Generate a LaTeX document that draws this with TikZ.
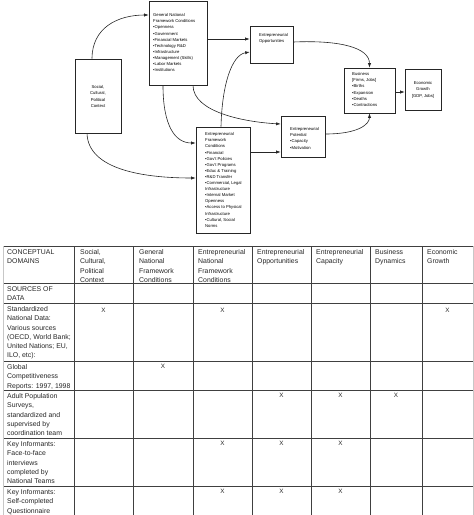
\documentclass[tikz,border=0pt]{standalone}
\usepackage{fontspec}
\setmainfont{Liberation Sans}
\usetikzlibrary{arrows.meta}
\begin{document}
\begin{tikzpicture}[x=1pt,y=-1pt,
  box/.style={draw=black!85, line width=0.6pt, inner sep=0pt, fill=white},
  btext/.style={inner sep=0pt, align=left, anchor=north west, font=\fontsize{4.2}{6.1}\selectfont},
  ctext/.style={inner sep=0pt, align=center, anchor=north, font=\fontsize{4.2}{6.2}\selectfont},
  arr/.style={line width=0.6pt, draw=black!85, -{Latex[length=4.5pt,width=3.2pt]}},
  tline/.style={line width=0.8pt, draw=black!75},
  tborder/.style={line width=0.8pt, draw=black!22},
  ttext/.style={inner sep=0pt, align=left, anchor=north west, font=\fontsize{6.9}{9.2}\selectfont, text=black!85},
  xmark/.style={inner sep=0pt, font=\fontsize{6.3}{7}\selectfont, text=black!85}]
\useasboundingbox (0,0) rectangle (474,515);

% ---------- diagram boxes ----------
\node[box, minimum width=46pt, minimum height=74pt] (soc) at (98,96) {};
\node[box, minimum width=58pt, minimum height=84pt] (gnfc) at (178,43) {};
\node[box, minimum width=43pt, minimum height=37pt] (eo) at (271.5,44.5) {};
\node[box, minimum width=54pt, minimum height=106pt] (efc) at (223,180) {};
\node[box, minimum width=44pt, minimum height=41pt] (ep) at (303,136.5) {};
\node[box, minimum width=51pt, minimum height=45pt] (bus) at (369.5,90.5) {};
\node[box, minimum width=36pt, minimum height=41pt] (eg) at (423,89.5) {};

% ---------- diagram texts ----------
\node[ctext] (soct) at (98,85.5) {Social,\\Cultural,\\Political\\Context};
\node[btext] (gnfct) at (153,13.5) {General National\\Framework Conditions\\•Openness\\•Government\\•Financial Markets\\•Technology R\&D\\•Infrastructure\\•Management (Skills)\\•Labor Markets\\•Institutions};
\node[btext] (eot) at (259,33.5) {Entrepreneurial\\Opportunities};
\node[btext] (efct) at (205,132.5) {Entrepreneurial\\Framework\\Conditions\\•Financial\\•Gov't Policies\\•Gov't Programs\\•Educ \& Training\\•R\&D Transfer\\•Commercial, Legal\\Infrastructure\\•Internal Market\\Openness\\•Access to Physical\\Infrastructure\\•Cultural, Social\\Norms};
\node[btext] (ept) at (290,127.5) {Entrepreneurial\\Potential\\•Capacity\\•Motivation};
\node[btext] (bust) at (352,72.5) {Business\\{[Firms, Jobs]}\\•Births\\•Expansion\\•Deaths\\•Contractions};
\node[ctext] (egt) at (423,81.5) {Economic\\Growth\\{[GDP, Jobs]}};

% ---------- connectors ----------
\draw[arr] ([shift={(-6,0)}]soc.north) .. controls +(0,-31) and +(-31,0) .. ([shift={(0,-28)}]gnfc.west);
\draw[arr] ([shift={(-11,0)}]soc.south) .. controls +(1,37) and +(-50,0) .. ([shift={(0,-2)}]efc.west);
\draw[arr] ([shift={(-15,0)}]gnfc.south) .. controls +(0,40) and +(-21,0) .. ([shift={(0,-37)}]efc.west);
\draw[arr] ([shift={(0,-4)}]gnfc.east) -- ([shift={(0,-5.5)}]eo.west);
\draw[arr] ([shift={(-2,0)}]efc.north) .. controls +(1,-42) and +(-18,3) .. ([shift={(0,7.5)}]eo.west);
\draw[arr] ([shift={(15,0)}]gnfc.south) .. controls +(0,27) and +(-36,-2) .. ([shift={(0,-12.5)}]ep.west);
\draw[arr] ([shift={(0,-28)}]efc.east) -- ([shift={(0,15.5)}]ep.west);
\draw[arr] ([shift={(0,-2.5)}]eo.east) .. controls +(47,-2) and +(0,-20) .. (bus.north);
\draw[arr] ([shift={(0,-2.5)}]ep.east) .. controls +(33,0) and +(0,11) .. (bus.south);
\draw[arr] ([shift={(0,1.5)}]bus.east) -- ([shift={(0,2.5)}]eg.west);

% ---------- table ----------
\foreach \yy in {246,283,303,361,390,438,486}
  \draw[tline] (3,\yy) -- (473,\yy);
\foreach \xx in {74,133,193,252,311,370,422}
  \draw[tline] (\xx,246) -- (\xx,515);
\draw[tborder] (3,246) -- (3,515);
\draw[tborder] (473,246) -- (473,515);

% header
\node[ttext] (h0) at (7,249.5) {CONCEPTUAL\\DOMAINS};
\node[ttext] (h1) at (80,249.5) {Social,\\Cultural,\\Political\\Context};
\node[ttext] (h2) at (139,249.5) {General\\National\\Framework\\Conditions};
\node[ttext] (h3) at (198,249.5) {Entrepreneurial\\National\\Framework\\Conditions};
\node[ttext] (h4) at (257,249.5) {Entrepreneurial\\Opportunities};
\node[ttext] (h5) at (316,249.5) {Entrepreneurial\\Capacity};
\node[ttext] (h6) at (375,249.5) {Business\\Dynamics};
\node[ttext] (h7) at (427,249.5) {Economic\\Growth};

% row labels
\node[ttext] (r1) at (7,286.5) {SOURCES OF\\DATA};
\node[ttext] (r2) at (7,306.5) {Standardized\\National Data:\\Various sources\\(OECD, World Bank;\\United Nations; EU,\\ILO, etc):};
\node[ttext] (r3) at (7,364.5) {Global\\Competitiveness\\Reports: 1997, 1998};
\node[ttext] (r4) at (7,393.5) {Adult Population\\Surveys,\\standardized and\\supervised by\\coordination team};
\node[ttext] (r5) at (7,441.5) {Key Informants:\\Face-to-face\\interviews\\completed by\\National Teams};
\node[ttext] (r6) at (7,489.5) {Key Informants:\\Self-completed\\Questionnaire};

% X marks
\node[xmark] (x21) at (103.5,310) {X};
\node[xmark] (x23) at (222.5,310) {X};
\node[xmark] (x27) at (447.5,310) {X};
\node[xmark] (x32) at (163,366) {X};
\node[xmark] (x44) at (281.5,395) {X};
\node[xmark] (x45) at (340.5,395) {X};
\node[xmark] (x46) at (396,395) {X};
\node[xmark] (x53) at (222.5,443) {X};
\node[xmark] (x54) at (281.5,443) {X};
\node[xmark] (x55) at (340.5,443) {X};
\node[xmark] (x63) at (222.5,491) {X};
\node[xmark] (x64) at (281.5,491) {X};
\node[xmark] (x65) at (340.5,491) {X};
\end{tikzpicture}
\end{document}
